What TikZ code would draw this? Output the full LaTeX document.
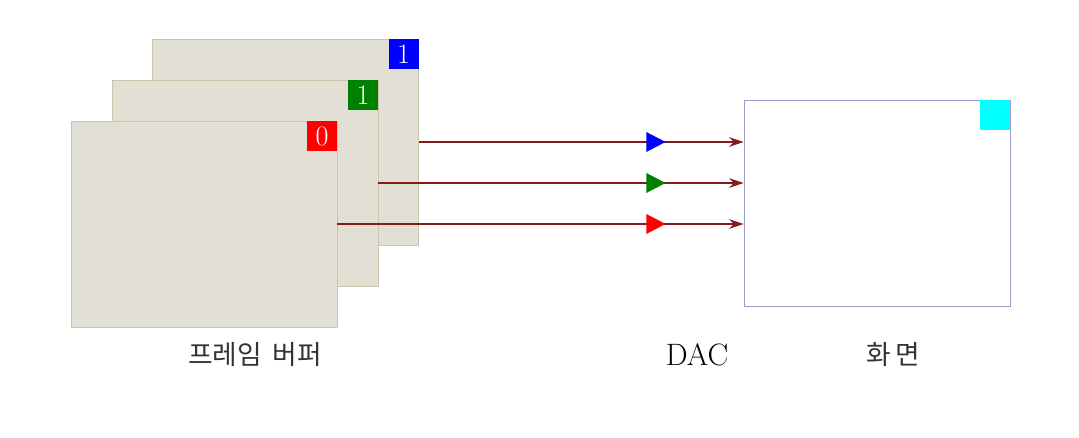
\documentclass[tikz,border=0pt]{standalone}
\usepackage{fontspec}
\newfontfamily\kor{Noto Sans CJK KR}
\usetikzlibrary{positioning, arrows.meta, shapes.geometric, calc}

\definecolor{bufgray}{HTML}{E2E0D4}
\definecolor{bufedge}{HTML}{CDC4AC}
\definecolor{scredge}{HTML}{9C9AC6}
\definecolor{wirered}{HTML}{861A1A}
\definecolor{pixcyan}{HTML}{00FFFF}
\definecolor{captext}{HTML}{333333}

\begin{document}
\begin{tikzpicture}[>={Stealth[length=3.6mm,width=2.4mm]}, semithick,
		buffer/.style={rectangle, draw=bufedge, fill=bufgray, minimum width=6.65cm, minimum height=5.15cm, inner sep=0pt},
		tag/.style={rectangle, text=white, minimum size=0.75cm, inner sep=0pt, font=\fontsize{20}{20}\selectfont},
		wire/.style={->, draw=wirered, line width=1.3pt},
		dacmark/.style={isosceles triangle, isosceles triangle stretches, inner sep=0pt, minimum width=0.5cm, minimum height=0.48cm},
		caption/.style={text=captext, font=\fontsize{19}{19}\selectfont}]

		\useasboundingbox (0,0) rectangle (26.975,10.95);

		% frame buffers, back to front
		\node[buffer] (BufB) at (7.1375,7.4) {};
		\node[buffer] (BufG) at (6.125,6.375) {};
		\node[buffer] (BufR) at (5.1,5.35) {};

		\node[tag, fill=blue, anchor=north east] (TagB) at (BufB.north east) {1};
		\node[tag, fill=green!50!black, anchor=north east] (TagG) at (BufG.north east) {1};
		\node[tag, fill=red, anchor=north east] (TagR) at (BufR.north east) {0};

		% screen
		\node[rectangle, draw=scredge, fill=white, minimum width=6.65cm, minimum height=5.15cm, inner sep=0pt] (Screen) at (21.925,5.875) {};
		\node[rectangle, fill=pixcyan, minimum size=0.75cm, inner sep=0pt, anchor=north east] (Pixel) at (Screen.north east) {};

		% wires with DAC triangles
		\coordinate (DacX) at (16.31,0);
		\draw[wire] (BufB.east) -- (BufB.east -| Screen.west);
		\draw[wire] (BufG.east) -- (BufG.east -| Screen.west);
		\draw[wire] (BufR.east) -- (BufR.east -| Screen.west);

		\node[dacmark, fill=blue] (DacB) at (BufB.east -| DacX) {};
		\node[dacmark, fill=green!50!black] (DacG) at (BufG.east -| DacX) {};
		\node[dacmark, fill=red] (DacR) at (BufR.east -| DacX) {};

		% captions
		\node[caption] (BufLbl) at (6.375,2.075) {\kor 프레임\, 버퍼};
		\node[caption, text=black, font=\fontsize{22}{22}\selectfont] (DacLbl) at (17.425,2.075) {DAC};
		\node[caption] (ScrLbl) at (22.33,2.075) {\kor 화\,면};

	\end{tikzpicture}
\end{document}
